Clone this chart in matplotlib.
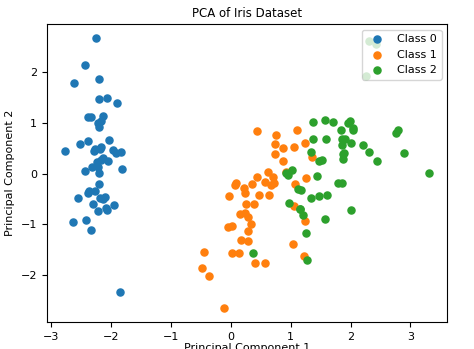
import numpy as np
import matplotlib.pyplot as plt

# first two principal components of the standardized iris measurements
pc1 = [
    -2.2647, -2.0810, -2.3642, -2.2994, -2.3898, -2.0756, -2.4440, -2.2328, -2.3346, -2.1843,
    -2.1663, -2.3261, -2.2185, -2.6331, -2.1987, -2.2622, -2.2076, -2.1903, -1.8986, -2.3434,
    -1.9143, -2.2070, -2.7743, -1.8187, -2.2272, -1.9518, -2.0512, -2.1686, -2.1396, -2.2653,
    -2.1401, -1.8316, -2.6149, -2.4462, -2.1100, -2.2078, -2.0451, -2.5273, -2.4296, -2.1697,
    -2.2865, -1.8581, -2.5536, -1.9644, -2.1371, -2.0697, -2.3847, -2.3944, -2.2294, -2.2038,
    1.1018, 0.7313, 1.2410, 0.4075, 1.0755, 0.3887, 0.7465, -0.4873, 0.9279, 0.0114,
    -0.1102, 0.4407, 0.5621, 0.7196, -0.0334, 0.8754, 0.3503, 0.1588, 1.2251, 0.1649,
    0.7377, 0.4763, 1.2342, 0.6329, 0.7027, 0.8743, 1.2565, 1.3584, 0.6648, -0.0403,
    0.1308, 0.0235, 0.2415, 1.0611, 0.2240, 0.4291, 1.0487, 1.0445, 0.0696, 0.2835,
    0.2791, 0.6246, 0.3365, -0.3622, 0.2886, 0.0914, 0.2277, 0.5764, -0.4477, 0.2567,
    1.8446, 1.1579, 2.2053, 1.4402, 1.8678, 2.7519, 0.3670, 2.3024, 2.0067, 2.2598,
    1.3642, 1.6027, 1.8839, 1.2601, 1.4676, 1.5901, 1.4714, 2.4263, 3.3107, 1.2638,
    2.0377, 0.9780, 2.8977, 1.3332, 1.7007, 1.9543, 1.1751, 1.0210, 1.7883, 1.8636,
    2.4360, 2.3049, 1.8627, 1.1141, 1.2025, 2.7988, 1.5763, 1.3463, 0.9248, 1.8520,
    2.0148, 1.9018, 1.1579, 2.0406, 1.9981, 1.8705, 1.5646, 1.5212, 1.3728, 0.9607,
]
pc2 = [
    0.4800, -0.6741, -0.3419, -0.5974, 0.6468, 1.4892, 0.0476, 0.2231, -1.1153, -0.4690,
    1.0437, 0.1331, -0.7287, -0.9615, 1.8601, 2.6863, 1.4836, 0.4888, 1.4050, 1.1278,
    0.4089, 0.9241, 0.4583, 0.0856, 0.1373, -0.6256, 0.2422, 0.5271, 0.3132, -0.3377,
    -0.5045, 0.4237, 1.7936, 2.1507, -0.4602, -0.2061, 0.6616, 0.5923, -0.9042, 0.2689,
    0.4417, -2.3374, -0.4791, 0.4723, 1.1422, -0.7111, 1.1204, -0.3862, 0.9980, 0.0092,
    0.8630, 0.5946, 0.6163, -1.7544, -0.2084, -0.5933, 0.7730, -1.8524, 0.0322, -1.0340,
    -2.6541, -0.0633, -1.7647, -0.1862, -0.4390, 0.5091, -0.1963, -0.7921, -1.6222, -1.3026,
    0.3966, -0.4173, -0.9333, -0.4164, -0.0634, 0.2508, -0.0773, 0.3313, -0.2259, -1.0587,
    -1.5623, -1.5725, -0.7773, -0.6338, -0.2878, 0.8456, 0.5221, -1.3830, -0.2195, -1.3293,
    -1.1200, 0.0249, -0.9884, -2.0192, -0.8557, -0.1812, -0.3849, -0.1549, -1.5438, -0.5989,
    0.8704, -0.6989, 0.5620, -0.0470, 0.2950, 0.8004, -1.5615, 0.4201, -0.7114, 1.9210,
    0.6928, -0.4217, 0.4192, -1.1623, -0.4423, 0.6762, 0.2556, 2.5567, 0.0178, -1.7067,
    0.9105, -0.5718, 0.4136, -0.4818, 1.0139, 1.0078, -0.3164, 0.0643, -0.1874, 0.5623,
    0.2593, 2.6263, -0.1785, -0.2929, -0.8113, 0.8568, 1.0686, 0.4224, 0.0172, 0.6761,
    0.6139, 0.6896, -0.6989, 0.8675, 1.0492, 0.3870, -0.8967, 0.2691, 1.0113, -0.0243,
]
target = [0] * 50 + [1] * 50 + [2] * 50
class_names = ["Class 0", "Class 1", "Class 2"]

pc1 = np.array(pc1)
pc2 = np.array(pc2)
target = np.array(target)

plt.rcParams['font.size'] = 8

fig = plt.figure(figsize=(4.74, 3.49), dpi=100)
ax = fig.add_axes([0.0985, 0.078, 0.845, 0.853])

for k, name in enumerate(class_names):
    sel = target == k
    ax.scatter(pc1[sel], pc2[sel], s=26, label=name)

ax.set_title("PCA of Iris Dataset", fontsize=8.5, pad=5)
ax.set_xlabel("Principal Component 1", labelpad=1)
ax.set_ylabel("Principal Component 2")
ax.legend(loc="upper right")

fig.savefig("out.png", dpi=100)
